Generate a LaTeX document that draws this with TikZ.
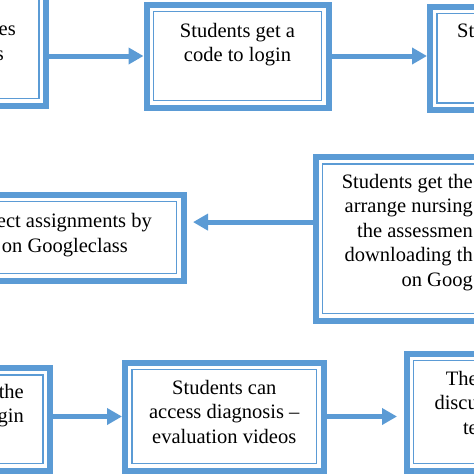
\documentclass[tikz,border=0pt]{standalone}
\usepackage{fontspec}
\setmainfont{Liberation Serif}
\usetikzlibrary{arrows.meta}
\definecolor{boxblue}{RGB}{91,155,213}
\tikzset{
  flowbox/.style={draw=boxblue, line width=6pt, rectangle, inner sep=0pt,
    path picture={\draw[boxblue, line width=1.5pt]
      ([shift={(7pt,-7pt)}]path picture bounding box.north west) rectangle
      ([shift={(-7pt,7pt)}]path picture bounding box.south east);}},
  txt/.style={font=\fontsize{20.5pt}{24.5pt}\selectfont, inner sep=0pt},
  flow/.style={draw=boxblue, line width=5pt, -{Triangle[length=15pt,width=16pt]}}
}
\begin{document}
\begin{tikzpicture}[x=1pt, y=-1pt]
  \useasboundingbox (0,0) rectangle (474,474);
  \clip (0,0) rectangle (474,474);
  \node[flowbox, minimum width=196pt, minimum height=115.5pt] (b1) at (-52,47.75) {};
  \node[flowbox, minimum width=182pt, minimum height=103pt] (b2) at (237.5,56) {};
  \node[flowbox, minimum width=200pt, minimum height=103.5pt] (b3) at (530,58.25) {};
  \node[flowbox, minimum width=283.5pt, minimum height=86pt] (b4) at (41.75,237.5) {};
  \node[flowbox, minimum width=324.5pt, minimum height=163.5pt] (b5) at (477.75,238.75) {};
  \node[flowbox, minimum width=150pt, minimum height=102.5pt] (b6) at (-25,419.25) {};
  \node[flowbox, minimum width=198.5pt, minimum height=108pt] (b7) at (224.25,416.5) {};
  \node[flowbox, minimum width=213.5pt, minimum height=117pt] (b8) at (513.25,412) {};

  \node[txt, anchor=base east] (t1a) at (16,35) {es};
  \node[txt, anchor=base east] (t1b) at (4,60) {s};
  \node[txt, align=center, anchor=base] (t2) at (237.5,61.5) {Students get a\\code to login};
  \node[txt, anchor=base west] (t3) at (457,37) {St};
  \node[txt, anchor=base east] (t4a) at (152,227) {ect assignments by};
  \node[txt, anchor=base east] (t4b) at (128,252) {on Googleclass};
  \node[txt, align=right, anchor=base east] (t5) at (473,286)
    {Students get the\\arrange nursing\\the assessmen\\downloading th\\on Goog};
  \node[txt, align=right, anchor=base east] (t6) at (24,422.5) {the\\gin};
  \node[txt, align=center, anchor=base] (t7) at (224.25,443)
    {Students can\\access diagnosis –\\evaluation videos};
  \node[txt, align=right, anchor=base east] (t8) at (478,434) {The\\discu\\te};

  \draw[flow] (b1.east |- b2.west) -- (b2.west);
  \draw[flow] (b2.east) -- (b2.east -| b3.west);
  \draw[flow, shorten >=6.5pt] (b5.west |- t4a) -- (b4.east |- t4a);
  \draw[flow] (b6.east |- b7.west) -- (b7.west);
  \draw[flow, shorten >=6.5pt] (b7.east) -- (b7.east -| b8.west);
\end{tikzpicture}
\end{document}
